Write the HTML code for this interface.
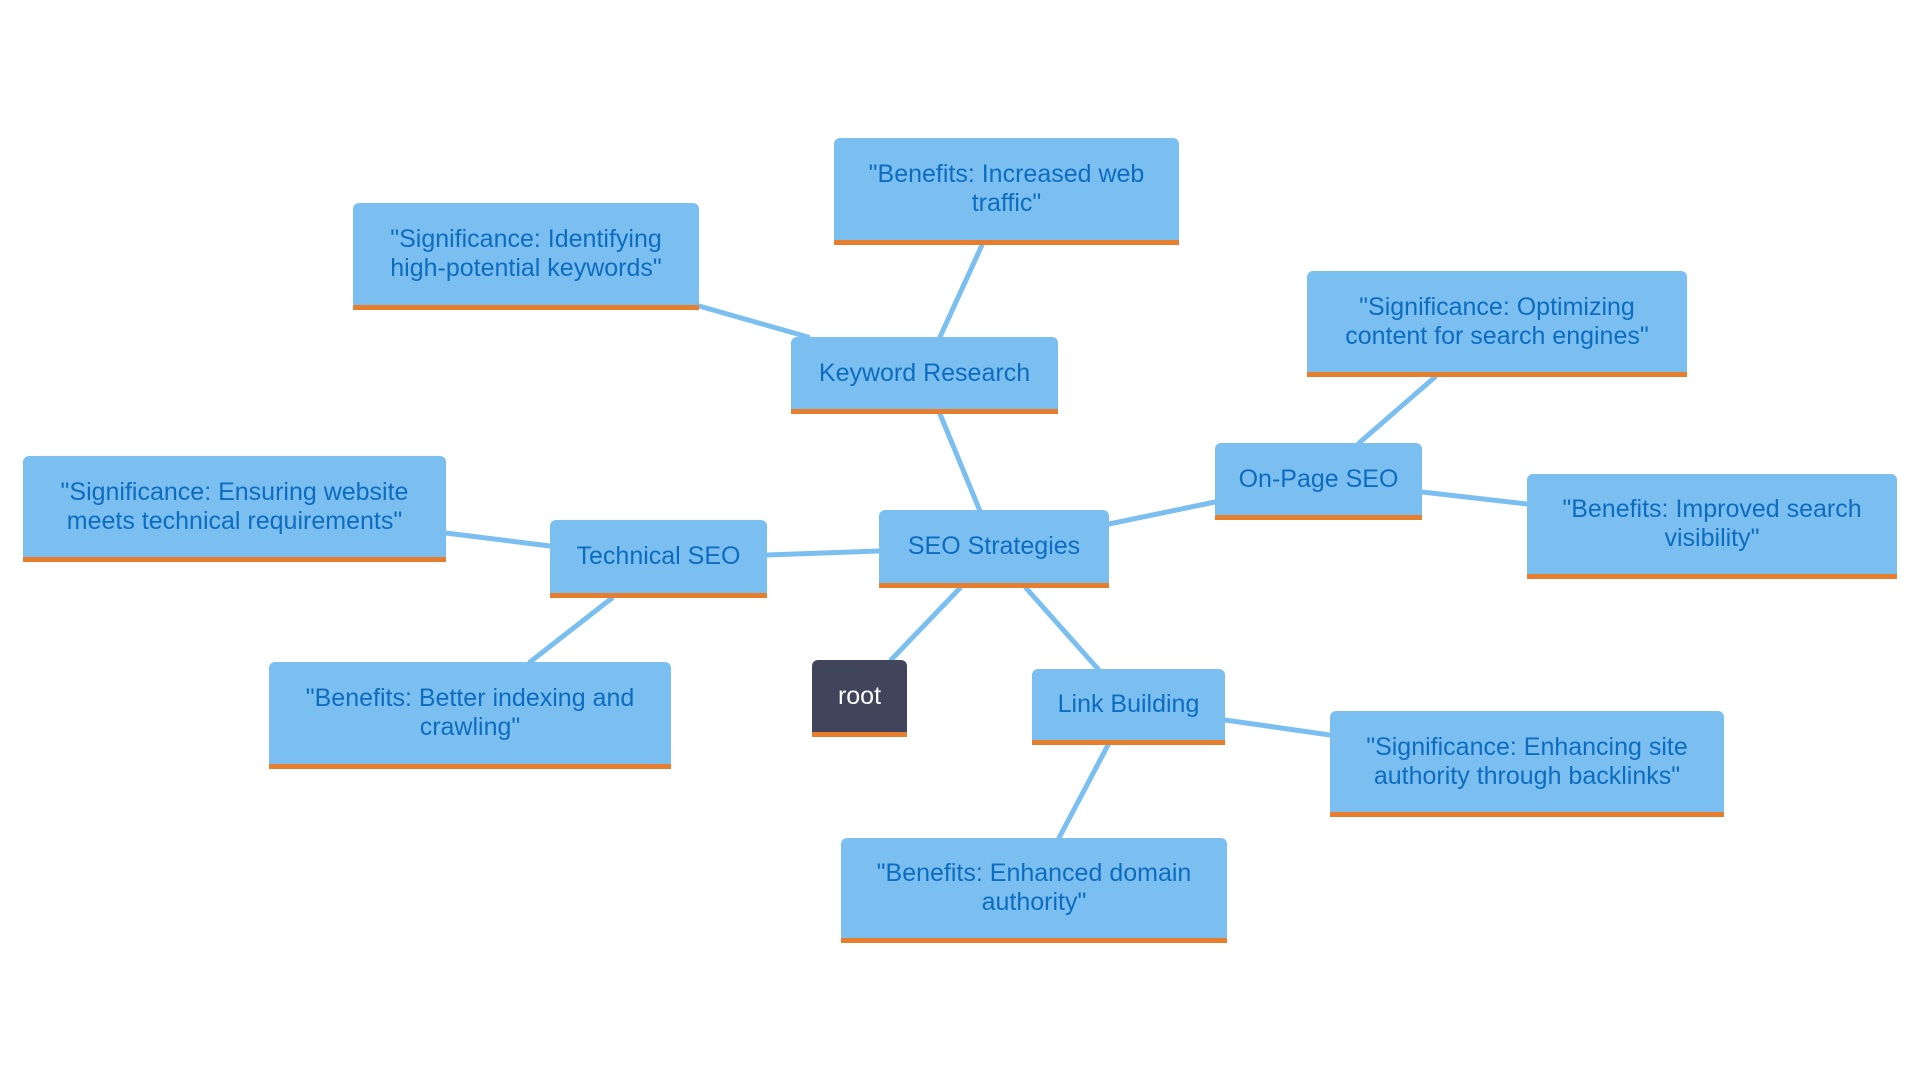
<!DOCTYPE html>
<html><head><meta charset="utf-8"><style>
body{margin:0;width:1920px;height:1080px;background:#fff;position:relative;overflow:hidden;font-family:"Liberation Sans",sans-serif}
svg{position:absolute;left:0;top:0}
.n{position:absolute;box-sizing:border-box;background:#7bbff0;border-bottom:5px solid #e67e2e;border-radius:6px 6px 0 0;color:#0e6cbf;font-size:25px;line-height:29px;display:flex;align-items:center;justify-content:center;text-align:center;padding:0 12px}
.r{background:#41455c;color:#fff}
</style></head><body>
<svg width="1920" height="1080"><g stroke="#7bbff0" stroke-width="5" stroke-linecap="round">
<line x1="980" y1="511" x2="940" y2="414"/>
<line x1="940" y1="337" x2="982" y2="245"/>
<line x1="808" y1="337" x2="699" y2="306"/>
<line x1="1109" y1="524" x2="1215" y2="502"/>
<line x1="1359" y1="443" x2="1435" y2="377"/>
<line x1="1422" y1="492" x2="1527" y2="504"/>
<line x1="879" y1="551" x2="767" y2="555"/>
<line x1="550" y1="546" x2="446" y2="533"/>
<line x1="612" y1="598" x2="530" y2="662"/>
<line x1="960" y1="588" x2="891" y2="660"/>
<line x1="1026" y1="588" x2="1098" y2="669"/>
<line x1="1225" y1="720" x2="1330" y2="735"/>
<line x1="1108" y1="745" x2="1059" y2="838"/>
</g></svg>
<div class="n" style="left:834px;top:138px;width:345px;height:107px">"Benefits: Increased web traffic"</div>
<div class="n" style="left:353px;top:203px;width:346px;height:107px">"Significance: Identifying high-potential keywords"</div>
<div class="n" style="left:791px;top:337px;width:267px;height:77px">Keyword Research</div>
<div class="n" style="left:1307px;top:271px;width:380px;height:106px">"Significance: Optimizing content for search engines"</div>
<div class="n" style="left:1215px;top:443px;width:207px;height:77px">On-Page SEO</div>
<div class="n" style="left:1527px;top:474px;width:370px;height:105px">"Benefits: Improved search visibility"</div>
<div class="n" style="left:23px;top:456px;width:423px;height:106px">"Significance: Ensuring website meets technical requirements"</div>
<div class="n" style="left:550px;top:520px;width:217px;height:78px">Technical SEO</div>
<div class="n" style="left:879px;top:510px;width:230px;height:78px">SEO Strategies</div>
<div class="n r" style="left:812px;top:660px;width:95px;height:77px">root</div>
<div class="n" style="left:1032px;top:669px;width:193px;height:76px">Link Building</div>
<div class="n" style="left:269px;top:662px;width:402px;height:107px">"Benefits: Better indexing and crawling"</div>
<div class="n" style="left:1330px;top:711px;width:394px;height:106px">"Significance: Enhancing site authority through backlinks"</div>
<div class="n" style="left:841px;top:838px;width:386px;height:105px">"Benefits: Enhanced domain authority"</div>
</body></html>
